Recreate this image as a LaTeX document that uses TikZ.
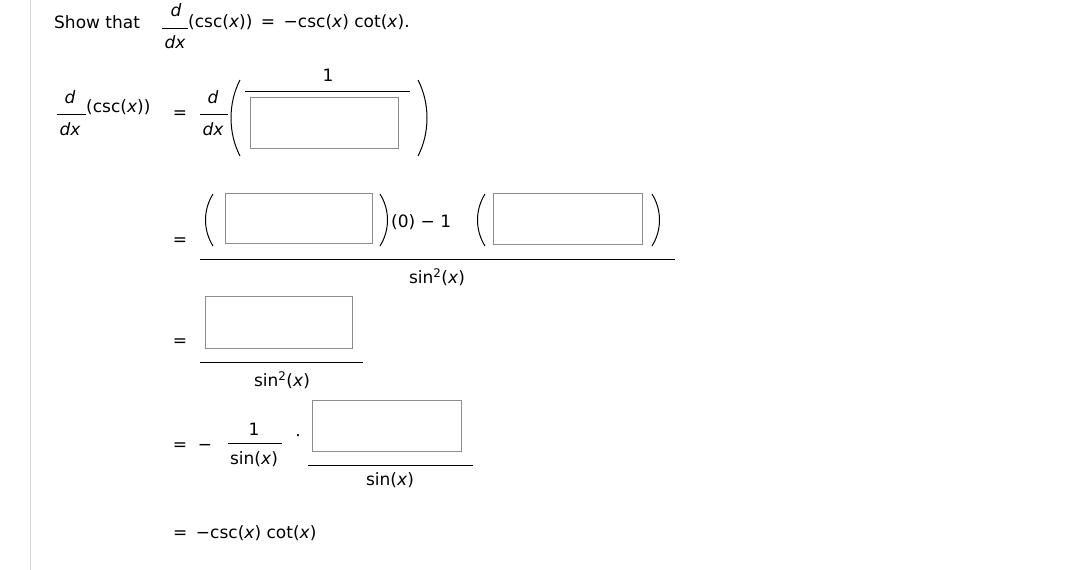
\documentclass[tikz,border=0pt]{standalone}
\usepackage{fontspec}
\setmainfont{DejaVu Sans}
\begin{document}
\begin{tikzpicture}[x=1pt,y=-1pt,
  t/.style={inner sep=0pt,font=\fontsize{17}{19}\selectfont},
  ansbox/.style={draw=black!45,line width=0.6pt},
  fl/.style={line width=0.6pt},
  lp/.style={line width=1pt}]
\useasboundingbox (0,0) rectangle (1072,570);
\draw[black!15,line width=1pt] (30,0) -- (30,570);
% row 1
\node[t,anchor=west] (show) at (54,22) {Show that};
\node[t] (d1) at (176,10) {\textit{d}};
\node[t] (dx1) at (175,42) {\textit{dx}};
\draw[fl] (162,28) -- (188,28);
\node[t,anchor=west] (r1) at (188,22) {(csc(\textit{x}))\enspace=\enspace−csc(\textit{x}) cot(\textit{x}).};
% row 2
\node[t] (d2) at (70,97) {\textit{d}};
\node[t] (dx2) at (70,129) {\textit{dx}};
\draw[fl] (57,114) -- (86,114);
\node[t,anchor=west] (c2) at (86,107) {(csc(\textit{x}))};
\node[t] (eq2) at (180,115) {=};
\node[t] (d3) at (213,97) {\textit{d}};
\node[t] (dx3) at (213,129) {\textit{dx}};
\draw[fl] (200,114) -- (228,114);
\draw[lp] (240,80) .. controls (228,103) and (228,133) .. (240,156);
\draw[lp] (418,80) .. controls (430,103) and (430,133) .. (418,156);
\node[t] (one2) at (328,75) {1};
\draw[fl] (245,91) -- (410,91);
\draw[ansbox] (250,97) rectangle (398,148);
% row 3
\node[t] (eq3) at (180,242) {=};
\draw[fl] (200,259) -- (675,259);
\draw[lp] (213,194) .. controls (203,210) and (203,230) .. (213,246);
\draw[ansbox] (225,193) rectangle (372,243);
\draw[lp] (380,194) .. controls (390,210) and (390,230) .. (380,246);
\node[t,anchor=west] (z3) at (391,222) {(0) − 1};
\draw[lp] (485,194) .. controls (475,210) and (475,230) .. (485,246);
\draw[ansbox] (493,193) rectangle (642,244);
\draw[lp] (652,194) .. controls (662,210) and (662,230) .. (652,246);
\node[t] (s3) at (437,277) {sin\textsuperscript{2}(\textit{x})};
% row 4
\node[t] (eq4) at (180,343) {=};
\draw[ansbox] (205,296) rectangle (352,348);
\draw[fl] (200,362) -- (363,362);
\node[t] (s4) at (282,380) {sin\textsuperscript{2}(\textit{x})};
% row 5
\node[t] (eq5) at (180,447) {=};
\node[t] (m5) at (205,447) {−};
\node[t] (one5) at (254,429) {1};
\draw[fl] (228,443) -- (282,443);
\node[t] (s5) at (254,459) {sin(\textit{x})};
\node[t] (dot5) at (298,438) {·};
\draw[ansbox] (312,400) rectangle (461,451);
\draw[fl] (308,465) -- (473,465);
\node[t] (s6) at (390,480) {sin(\textit{x})};
% row 6
\node[t,anchor=west] (r6) at (173,533) {=\enspace−csc(\textit{x}) cot(\textit{x})};
\end{tikzpicture}
\end{document}
